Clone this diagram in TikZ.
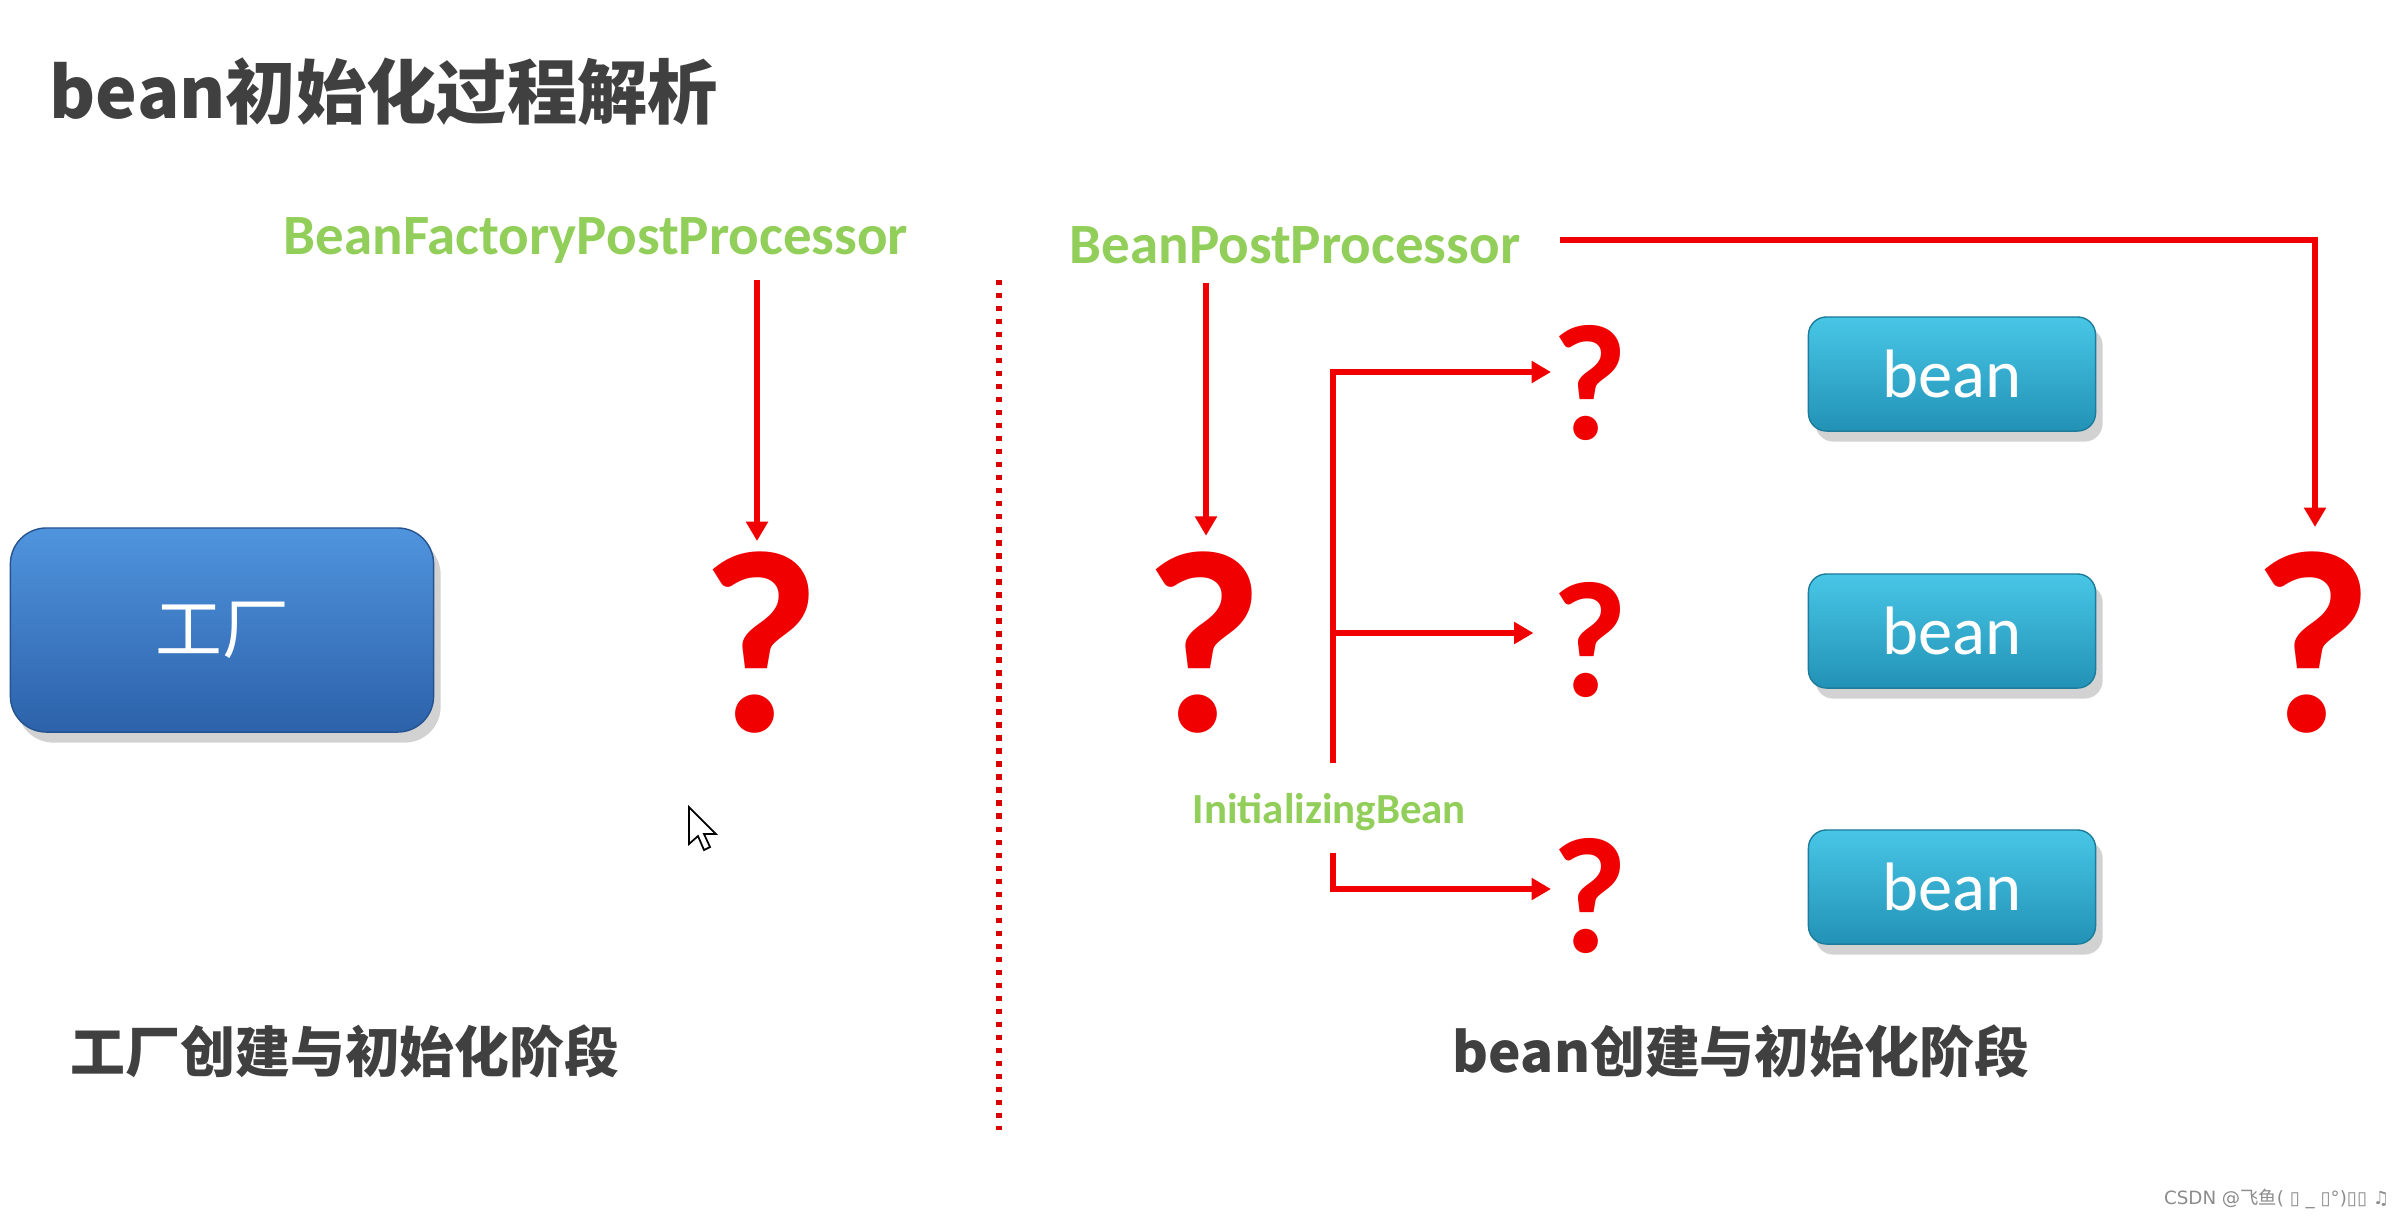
\documentclass[tikz,border=0pt]{standalone}
\usepackage{fontspec}
\usetikzlibrary{arrows.meta,shadows}
\newfontfamily\cjk{Noto Sans CJK SC}
\newfontfamily\carl{Carlito}
\newfontfamily\dejavu{DejaVu Sans}
\definecolor{titlegray}{RGB}{64,64,64}
\definecolor{lgreen}{RGB}{146,206,90}
\definecolor{qred}{RGB}{240,0,0}
\definecolor{fTop}{RGB}{80,148,222}
\definecolor{fBot}{RGB}{44,98,170}
\definecolor{bTop}{RGB}{72,198,230}
\definecolor{bBot}{RGB}{34,146,182}
\tikzset{
  heading/.style={anchor=west, inner sep=0pt, text=titlegray, font=\cjk\bfseries\fontsize{20}{24}\selectfont},
  phase/.style={anchor=west, inner sep=0pt, text=titlegray, font=\cjk\bfseries\fontsize{15.6}{18}\selectfont},
  iface/.style={anchor=west, inner sep=0pt, text=lgreen, font=\carl\bfseries\fontsize{16.2}{18}\selectfont},
  ifacesmall/.style={anchor=west, inner sep=0pt, text=lgreen, font=\carl\bfseries\fontsize{12.2}{14}\selectfont},
  qbig/.style={inner sep=0pt, text=qred, font=\carl\bfseries\fontsize{74}{74}\selectfont},
  qsmall/.style={inner sep=0pt, text=qred, font=\carl\bfseries\fontsize{47}{47}\selectfont},
  arr/.style={draw=qred, line width=1.7pt, -{Triangle[width=6pt,length=5.5pt]}},
  divider/.style={draw=red!85!black, line width=1.6pt, dash pattern=on 1.5pt off 2.2pt},
  factorybox/.style={rounded corners=0.36cm, minimum width=4.23cm, minimum height=2.04cm,
    top color=fTop, bottom color=fBot, draw=fBot!85!black, line width=0.4pt,
    drop shadow={opacity=0.35, shadow xshift=2pt, shadow yshift=-3pt},
    text=white, font=\cjk\fontsize{19}{20}\selectfont},
  beanbox/.style={rounded corners=0.18cm, minimum width=2.87cm, minimum height=1.14cm,
    top color=bTop, bottom color=bBot, draw=bBot!85!black, line width=0.4pt,
    drop shadow={opacity=0.35, shadow xshift=2pt, shadow yshift=-3pt},
    text=white, font=\carl\fontsize{19.5}{20}\selectfont}
}
\begin{document}
\begin{tikzpicture}[x=0.01cm, y=-0.01cm]
\path[use as bounding box, fill=white] (0,0) rectangle (2402,1220);

% titles
\node[heading] (title) at (49,92) {bean初始化过程解析};
\node[phase] (phaseL) at (70,1051) {工厂创建与初始化阶段};
\node[phase] (phaseR) at (1452,1051) {bean创建与初始化阶段};

% interfaces
\node[iface] (bfpp) at (283,240) {BeanFactoryPostProcessor};
\node[iface] (bpp) at (1069,245) {BeanPostProcessor};
\node[ifacesmall] (ib) at (1192,812) {InitializingBean};

% boxes
\node[factorybox] (factory) at (222,630) {工厂};
\node[beanbox] (bean1) at (1952,374) {bean};
\node[beanbox] (bean2) at (1952,631) {bean};
\node[beanbox] (bean3) at (1952,887) {bean};

% question marks
\node[qbig] (q1) at (761,643) {?};
\node[qbig] (q2) at (1204,643) {?};
\node[qbig] (q3) at (2313,643) {?};
\node[qsmall] (q4) at (1590,383) {?};
\node[qsmall] (q5) at (1590,640) {?};
\node[qsmall] (q6) at (1590,896) {?};

% divider
\coordinate (divTop) at (999,280);
\coordinate (divBot) at (999,1130);
\draw[divider] (divTop) -- (divBot);

% arrows
\coordinate (a1s) at (757,280);
\draw[arr, shorten >=3pt] (a1s) -- (a1s |- q1.north);
\coordinate (a2s) at (1206,283);
\draw[arr, shorten >=4.5pt] (a2s) -- (a2s |- q2.north);
\coordinate (l1) at (1560,240);
\coordinate (l2) at (2315,240);
\draw[arr, shorten >=7pt] (l1) -- (l2) -- (l2 |- q3.north);

\coordinate (b1) at (1333,372);
\coordinate (b2) at (1333,763);
\coordinate (bm) at (1333,633);
\draw[arr] (b2) -- (b1) -- (b1 -| q4.west);
\draw[arr, shorten >=5pt] (bm) -- (bm -| q5.west);
\coordinate (b3) at (1333,853);
\coordinate (b4) at (1333,889);
\draw[arr] (b3) -- (b4) -- (b4 -| q6.west);

% mouse cursor
\filldraw[fill=white, draw=black, line width=0.5pt, line join=miter]
  (689,807) -- ++(0,37) -- ++(9,-8) -- ++(6,14) -- ++(6,-3) -- ++(-6,-13) -- ++(12,0) -- cycle;

% watermark
\node[anchor=east, inner sep=0pt, text=black!45, font=\dejavu\fontsize{5.2}{6}\selectfont] (wm) at (2390,1199)
  {CSDN @{\cjk 飞鱼}( ▯ \_ ▯°)▯▯ ♫};
\end{tikzpicture}
\end{document}
